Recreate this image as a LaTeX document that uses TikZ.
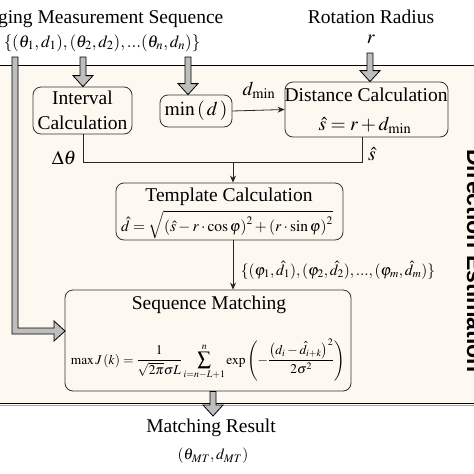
\documentclass[tikz,border=0pt]{standalone}
\usepackage{mathptmx}
\usepackage{fontspec}
\setmainfont{Liberation Serif}
\newfontfamily\headsans{Liberation Sans}
\usetikzlibrary{arrows.meta,calc}
\definecolor{panel}{RGB}{253,249,241}
\definecolor{arrgray}{RGB}{190,190,190}
\tikzset{
  harrow/.style={draw=black,fill=arrgray,line width=0.8pt,line join=miter},
  procbox/.style={draw=black!80,line width=0.8pt,rounded corners=8pt,align=center,inner sep=0pt},
  thin/.style={draw=black!85,line width=0.8pt},
  thinarrow/.style={thin,-{Stealth[length=7pt,width=6pt]}},
  lbl/.style={inner sep=0pt},
}
\newcommand\hdown[2]{\path[harrow] let \p1=#1, \p2=#2 in
  (\x1-3pt,\y1) -- (\x1-3pt,\y2+11pt) -- (\x1-10pt,\y2+11pt) -- (\x1,\y2) --
  (\x1+10pt,\y2+11pt) -- (\x1+3pt,\y2+11pt) -- (\x1+3pt,\y1) -- cycle;}
\newcommand\txt{\fontsize{19.5}{23}\selectfont}
\begin{document}
\begin{tikzpicture}[x=1pt,y=-1pt]
\useasboundingbox (0,0) rectangle (474,474);
\clip (0,0) rectangle (474,474);
% panel
\fill[panel] (-5,65) rectangle (480,404);
\draw[line width=1pt] (-5,65) -- (480,65);
\draw[line width=1.6pt] (-5,403.5) -- (480,403.5);
\draw[black!35,line width=1pt] (-5,405.5) -- (480,405.5);
\node[lbl,rotate=-90,anchor=base] (dir) at (467,261) {\headsans\bfseries\fontsize{23}{26}\selectfont Direction Estimation};
% top texts
\node[lbl] (title) at (95,19) {\txt Ranging Measurement Sequence};
\node[lbl] (set) at (102,43) {\fontsize{17}{20}\selectfont $\{(\theta_1,d_1),(\theta_2,d_2),...(\theta_n,d_n)\}$};
\node[lbl] (rot) at (371,17) {\txt Rotation Radius};
\node[lbl] (r) at (371,39) {\txt $r$};
% boxes
\node[procbox,minimum width=99pt,minimum height=47pt,font=\txt] (ivl) at (82.5,110.5) {Interval\\[2pt]Calculation};
\node[procbox,minimum width=72pt,minimum height=32pt] (mind) at (196,111) {\txt $\mathrm{min}\left(\,d\,\right)$};
\node[procbox,minimum width=163pt,minimum height=55pt] (dist) at (366.5,109.5) {};
\node[lbl] (distt) at (366,95) {\txt Distance Calculation};
\node[lbl] (distf) at (365,125) {\txt $\hat{s}=r+d_{\min}$};
\node[procbox,minimum width=227pt,minimum height=57pt] (tmpl) at (229.5,211.5) {};
\node[lbl] (tmplt) at (229,197) {\txt Template Calculation};
\node[lbl] (tmplf) at (227,225) {\fontsize{15.5}{19}\selectfont $\hat{d}=\sqrt{\left(\hat{s}-r\cdot\cos\varphi\right)^2+\left(r\cdot\sin\varphi\right)^2}$};
\node[procbox,minimum width=286pt,minimum height=101pt] (seq) at (208,340.5) {};
\node[lbl] (seqt) at (209,305) {\txt Sequence Matching};
\node[lbl] (seqf) at (208,360) {\fontsize{13.4}{16}\selectfont $\displaystyle \max J\left(k\right)=\frac{1}{\sqrt{2\pi}\sigma L}\sum_{i=n-L+1}^{n}\exp\left(-\frac{\left(d_i-\hat{d}_{i+k}\right)^2}{2\sigma^2}\right)$};
% result
\node[lbl] (res) at (211,428) {\txt Matching Result};
\node[lbl] (resf) at (213,456) {\fontsize{15.5}{18}\selectfont $\left(\theta_{MT},d_{MT}\right)$};
% coordinates
\coordinate (s0) at (15,57);
\coordinate (s1) at (83,57);
\coordinate (s2) at (188,57);
\coordinate (s3) at (370,53);
\coordinate (seqin) at (65,331);
\coordinate (merge) at (233,162);
\coordinate (resin) at (213,416);
% hollow arrows
\hdown{(s1)}{(s1 |- ivl.north)}
\hdown{(s2)}{(s2 |- mind.north)}
\hdown{(s3)}{(s3 |- dist.north)}
\hdown{($(seq.south)+(5,0)$)}{(resin)}
\path[harrow] let \p1=(s0), \p2=(seqin) in
  (\x1-3pt,\y1) -- (\x1-3pt,\y2-3pt) -- (\x2-11pt,\y2-3pt) -- (\x2-11pt,\y2-10pt) -- (\x2,\y2) --
  (\x2-11pt,\y2+10pt) -- (\x2-11pt,\y2+3pt) -- (\x1+3pt,\y2+3pt) -- (\x1+3pt,\y1) -- cycle;
% thin connectors
\draw[thinarrow] (mind.east) -- (dist.west);
\node[lbl] (dmin) at (259,90) {\txt $d_{\min}$};
\draw[thin] (ivl.south -| s1) |- (merge);
\draw[thin] ($(dist.south)+(-4,0)$) |- (merge);
\draw[thinarrow] (merge) -- (merge |- tmpl.north);
\node[lbl] (dth) at (64,158) {\txt $\Delta\theta$};
\node[lbl] (sh) at (372,154) {\txt $\hat{s}$};
\draw[thinarrow] (tmpl.south -| merge) -- (merge |- seq.north);
\node[lbl] (tset) at (338,270) {\fontsize{15.5}{19}\selectfont $\{(\varphi_1,\hat{d}_1),(\varphi_2,\hat{d}_2),...,(\varphi_m,\hat{d}_m)\}$};
\end{tikzpicture}
\end{document}
